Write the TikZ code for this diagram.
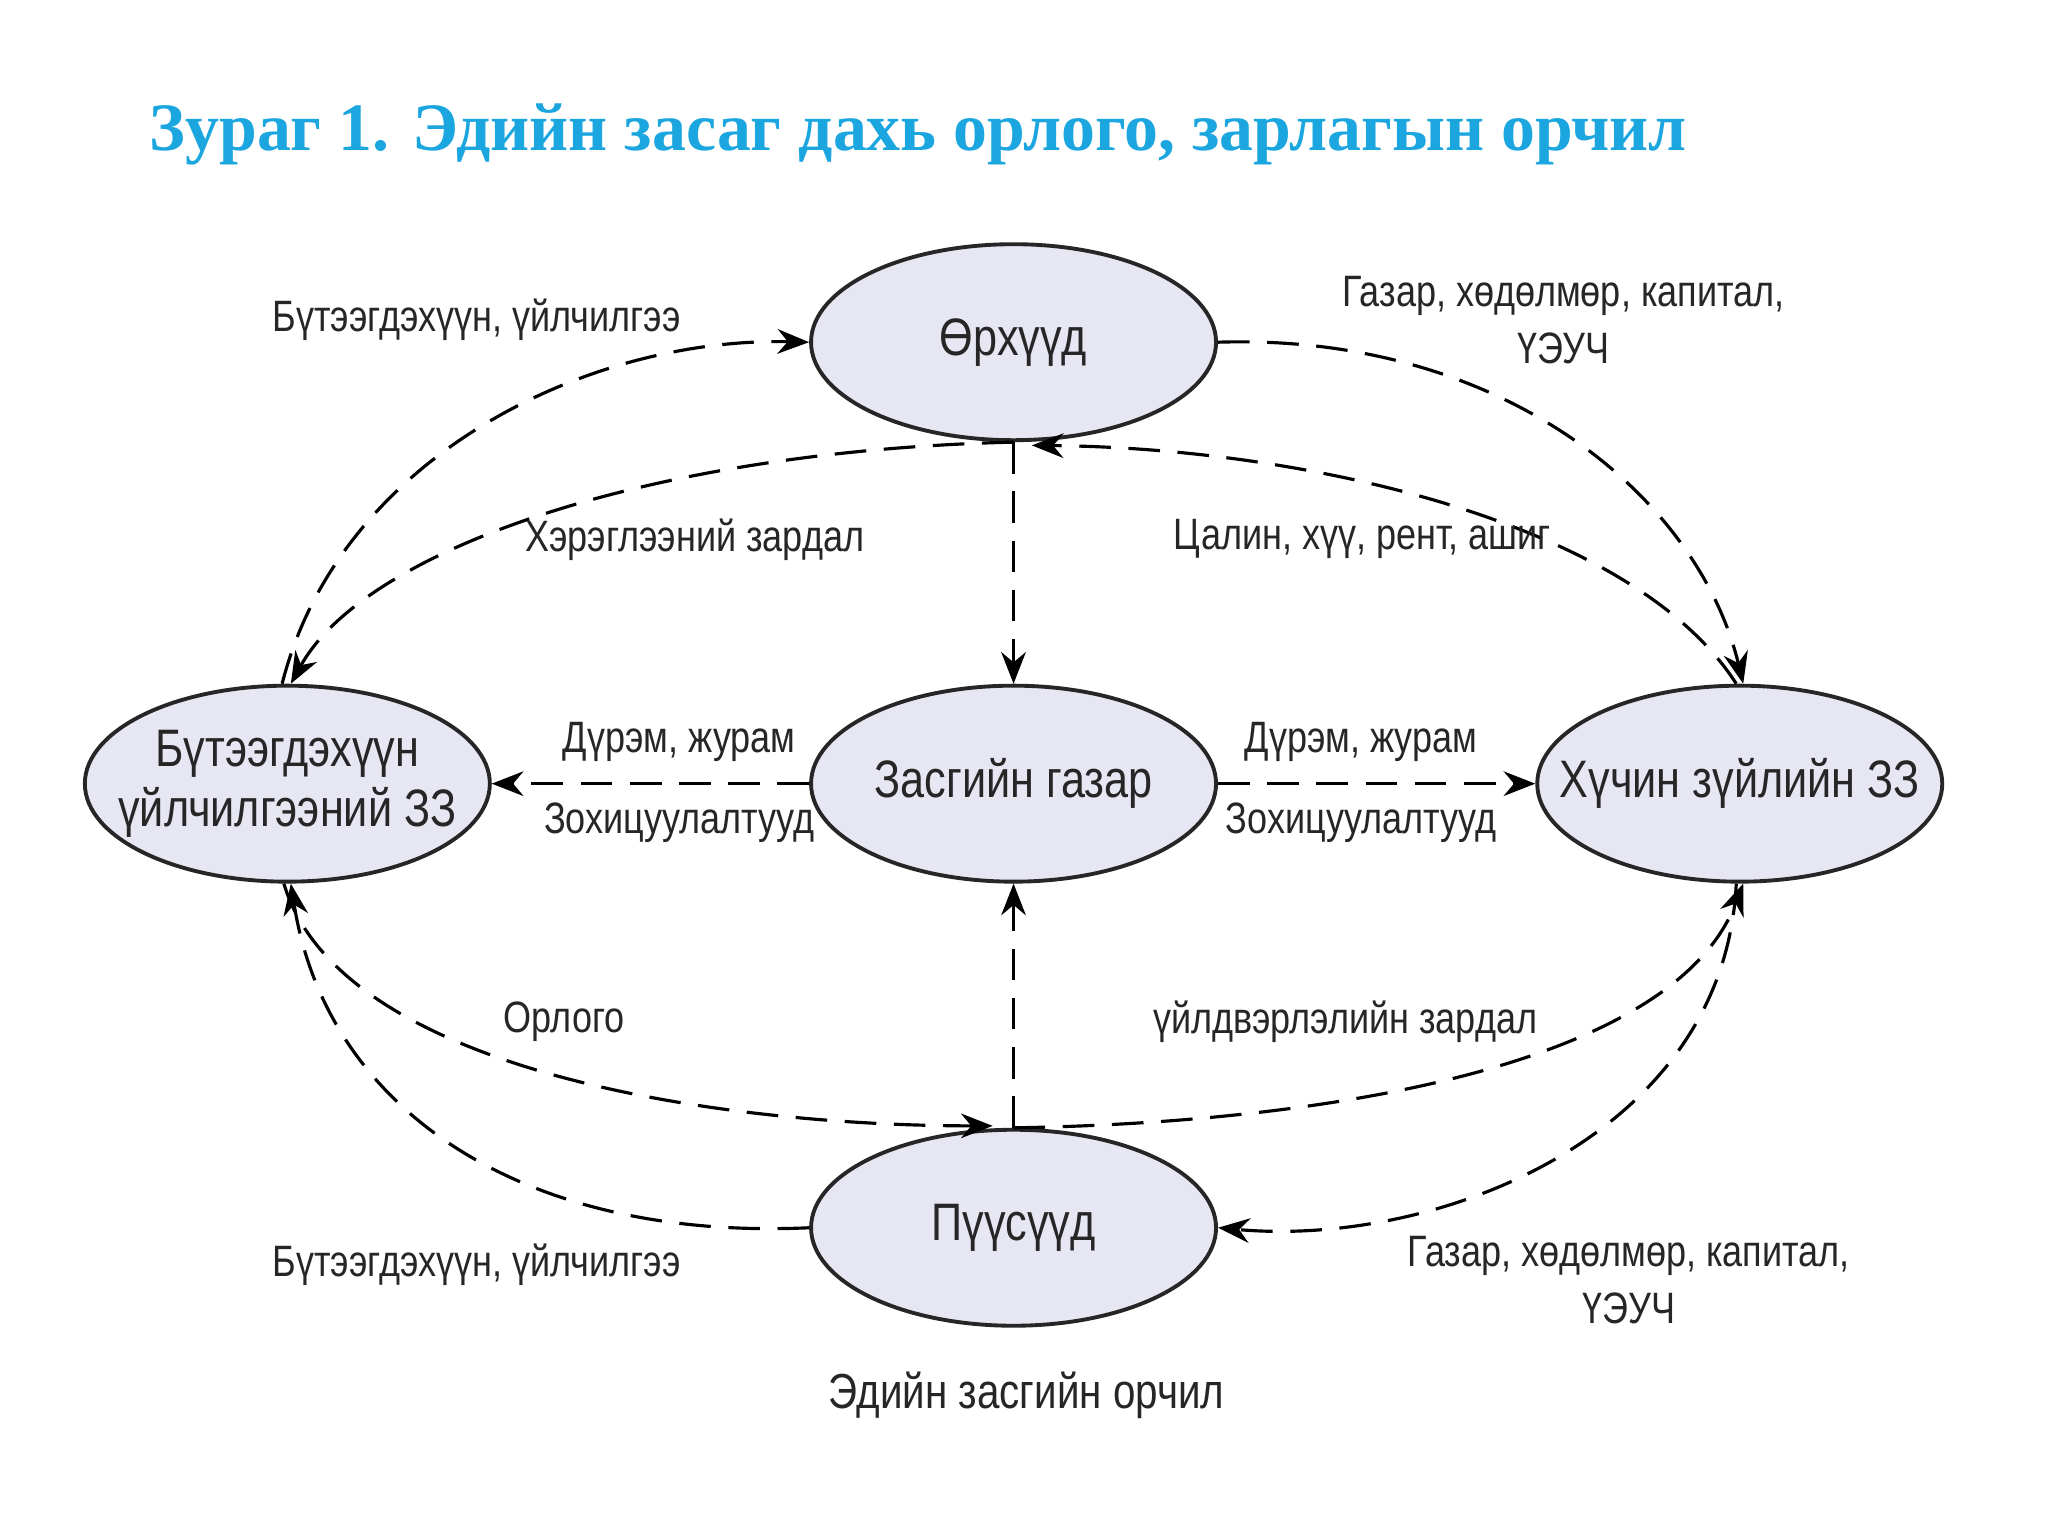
\documentclass[tikz,border=0pt]{standalone}
\usepackage{fontspec}
\setmainfont{Liberation Sans}[FakeStretch=0.82]
\newfontfamily\titlefont{Liberation Serif}
\usetikzlibrary{shapes.geometric,arrows.meta}
\definecolor{ellfill}{HTML}{E6E7F3}
\definecolor{titleblue}{HTML}{1BA6E0}
\begin{document}
\begin{tikzpicture}[x=0.01306cm,y=-0.01306cm,
  con/.style={dash pattern=on 9pt off 5pt,line width=0.9pt,-{Stealth[length=9pt,width=7pt]}},
  lab/.style={font=\fontsize{12.5}{16}\selectfont,align=center,text=black!85}]
\useasboundingbox (0,0) rectangle (1568,1176);
\fill[white] (0,0) rectangle (1568,1176);
\node[anchor=west,font=\titlefont\bfseries\fontsize{19.3}{23}\selectfont,text=titleblue] (title) at (105,103) {Зураг 1. Эдийн засаг дахь орлого, зарлагын орчил};
\tikzset{ellsz/.style={ellipse,draw=black!85,line width=1.1pt,fill=ellfill,minimum width=4.05cm,minimum height=1.96cm,inner sep=0pt,
   label={[align=center,font=\fontsize{15}{18}\selectfont,text=black!85]center:#1}}}
\node[ellsz={Өрхүүд}] (H) at (776,262) {};
\node[ellsz={Засгийн газар}] (G) at (776,600) {};
\node[ellsz={Бүтээгдэхүүн\\[-1pt]үйлчилгээний ЗЗ}] (L) at (220,600) {};
\node[ellsz={Хүчин зүйлийн ЗЗ}] (R) at (1332,600) {};
\node[ellsz={Пүүсүүд}] (F) at (776,940) {};
\coordinate (Hb) at (790,341);
\coordinate (Ft) at (760,862);
\draw[con] (L.93) .. controls (260,350) and (450,258) .. (H.west);
\draw[con] (H.south) .. controls (500,345) and (280,420) .. (L.88);
\draw[con] (H.east) .. controls (1150,255) and (1300,380) .. (R.88);
\draw[con] (R.92) .. controls (1250,400) and (1000,343) .. (Hb);
\draw[con] (H.south) -- (G.north);
\draw[con] (G.west) -- (L.east);
\draw[con] (G.east) -- (R.west);
\draw[con] (F.north) -- (G.south);
\draw[con] (L.268) .. controls (260,820) and (550,862) .. (Ft);
\draw[con] (F.west) .. controls (400,950) and (250,850) .. (L.272);
\draw[con] (F.north) .. controls (1000,860) and (1280,820) .. (R.272);
\draw[con] (R.268) .. controls (1320,870) and (1100,955) .. (F.east);
\node[lab] (l1) at (365,245) {Бүтээгдэхүүн, үйлчилгээ};
\node[lab] (l2) at (1197,245) {Газар, хөдөлмөр, капитал,\\ҮЭУЧ};
\node[lab] (l3) at (532,413) {Хэрэглээний зардал};
\node[lab] (l4) at (1043,413) {Цалин, хүү, рент, ашиг};
\node[lab] (l5) at (520,568) {Дүрэм, журам};
\node[lab] (l6) at (520,630) {Зохицуулалтууд};
\node[lab] (l7) at (1042,568) {Дүрэм, журам};
\node[lab] (l8) at (1042,630) {Зохицуулалтууд};
\node[lab] (l9) at (432,782) {Орлого};
\node[lab] (l10) at (1030,782) {үйлдвэрлэлийн зардал};
\node[lab] (l11) at (365,968) {Бүтээгдэхүүн, үйлчилгээ};
\node[lab] (l12) at (1247,980) {Газар, хөдөлмөр, капитал,\\ҮЭУЧ};
\node[lab,font=\fontsize{14}{17}\selectfont] (l13) at (786,1068) {Эдийн засгийн орчил};
\end{tikzpicture}
\end{document}
